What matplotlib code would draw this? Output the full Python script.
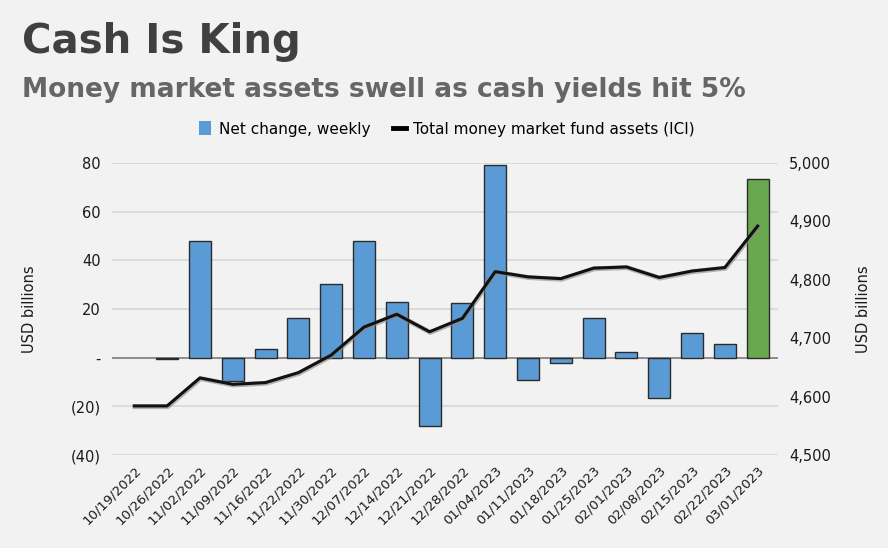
import matplotlib
matplotlib.use("Agg")
import matplotlib.pyplot as plt
import matplotlib.patheffects as pe
from matplotlib.patches import Patch
from matplotlib.lines import Line2D
from matplotlib.ticker import FuncFormatter, MultipleLocator

plt.rcParams['font.family'] = ['DejaVu Sans']

dates = ["10/19/2022", "10/26/2022", "11/02/2022", "11/09/2022", "11/16/2022",
         "11/22/2022", "11/30/2022", "12/07/2022", "12/14/2022", "12/21/2022",
         "12/28/2022", "01/04/2023", "01/11/2023", "01/18/2023", "01/25/2023",
         "02/01/2023", "02/08/2023", "02/15/2023", "02/22/2023", "03/01/2023"]
net_change = [0, -0.7, 48, -9.6, 3.4, 16.2, 30.2, 48, 22.9, -28.1,
              22.5, 79.2, -9.2, -2.3, 16.2, 2.2, -16.4, 10.3, 5.8, 73.4]
total_assets = [4584, 4584, 4632, 4621, 4624, 4641, 4671, 4719, 4741, 4711,
                4734, 4814, 4805, 4802, 4820, 4822, 4804, 4815, 4821, 4892]

BG = "#f2f2f2"
BLUE = "#5b9bd5"
GREEN = "#6aa84f"

fig = plt.figure(figsize=(8.88, 5.48), dpi=100, facecolor=BG)
ax = fig.add_axes([112/888, 1-455/548, (778-112)/888, (455-163)/548])
ax.set_facecolor(BG)

x = list(range(len(dates)))
colors = [BLUE] * (len(dates) - 1) + [GREEN]
lws = [0 if v == 0 else 1.0 for v in net_change]
ax.bar(x, net_change, width=0.67, color=colors, edgecolor="#2b2b2b", linewidth=lws, zorder=3)

ax.set_ylim(-40, 80)
ax.set_xlim(-0.68, 19.62)
ax.yaxis.set_major_locator(MultipleLocator(20))

def lfmt(v, pos):
    if abs(v) < 1e-9:
        return "-"
    if v < 0:
        return f"({int(-v)})"
    return f"{int(v)}"
ax.yaxis.set_major_formatter(FuncFormatter(lfmt))
ax.grid(axis="y", color="#d9d9d9", linewidth=1.3, zorder=0)
ax.axhline(0, color="#808080", linewidth=1.2, zorder=2)
for s in ax.spines.values():
    s.set_visible(False)
ax.tick_params(axis="both", length=0, labelsize=10.5, colors="#1a1a1a")
ax.tick_params(axis="y", pad=8)
ax.set_xticks(x)
ax.set_xticklabels(dates, rotation=45, ha="right", rotation_mode="anchor", fontsize=9.5)
ax.tick_params(axis="x", pad=6)
ax.set_ylabel("USD billions", fontsize=10.5, color="#1a1a1a", labelpad=24)

ax2 = ax.twinx()
ax2.set_ylim(4500, 5000)
ax2.yaxis.set_major_locator(MultipleLocator(100))
ax2.yaxis.set_major_formatter(FuncFormatter(lambda v, p: f"{int(v):,}"))
for s in ax2.spines.values():
    s.set_visible(False)
ax2.tick_params(axis="y", length=0, labelsize=10.5, colors="#1a1a1a", pad=8)
ax2.plot(x, total_assets, color="#111111", linewidth=2.2, zorder=5,
         path_effects=[pe.SimpleLineShadow(offset=(0.5, -0.5), shadow_color="#888888", alpha=0.6, linewidth=3.5), pe.Normal()])
ax2.set_ylabel("USD billions", fontsize=10.5, color="#1a1a1a", rotation=90, labelpad=18)

fig.text(22/888, 1-42/548, "Cash Is King", fontsize=29, fontweight="bold", color="#404040", va="center", ha="left")
fig.text(22/888, 1-90/548, "Money market assets swell as cash yields hit 5%", fontsize=19, fontweight="bold", color="#666666", va="center", ha="left")

handles = [Patch(facecolor=BLUE, edgecolor="none"),
           Line2D([0], [0], color="black", linewidth=3.5)]
fig.legend(handles, ["Net change, weekly", "Total money market fund assets (ICI)"],
           loc="center", bbox_to_anchor=(447/888, 1-129/548), ncol=2, frameon=False,
           fontsize=11, handlelength=0.8, handleheight=1.0, columnspacing=1.5, handletextpad=0.5)

fig.savefig("out.png", dpi=100, facecolor=BG)
